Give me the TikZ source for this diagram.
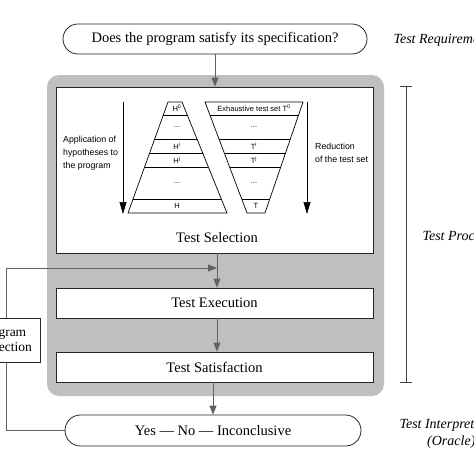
\documentclass[tikz,border=0pt]{standalone}
\usepackage{fontspec}
\setmainfont{Liberation Serif}
\newfontfamily\lsans{Liberation Sans}
\usetikzlibrary{arrows.meta,shapes.misc,calc}
\begin{document}
\begin{tikzpicture}[x=1pt,y=-1pt,
  mainfont/.style={font=\fontsize{14.5}{16}\selectfont},
  smallfont/.style={font=\lsans\fontsize{8.8}{13}\selectfont},
  tinyfont/.style={font=\lsans\fontsize{7.5}{9}\selectfont},
  sidefont/.style={font=\itshape\fontsize{14}{17}\selectfont},
  stadium/.style={rounded rectangle, draw=black!85, line width=0.8pt, inner sep=0pt, mainfont},
  whitebox/.style={rectangle, draw=black!85, fill=white, line width=0.8pt, inner sep=0pt, mainfont},
  flow/.style={draw=black!62, line width=0.9pt, -{Triangle[length=9pt,width=7pt]}},
  plain/.style={draw=black!62, line width=0.8pt},
  darrow/.style={draw=black, line width=0.6pt, -{Triangle[length=12pt,width=7pt]}},
  trap/.style={draw=black, line width=0.7pt},
]
\useasboundingbox (0,0) rectangle (474,474);
% background
\fill[black!25, rounded corners=12pt] (47,75) rectangle (384,396);
% nodes
\node[stadium, minimum width=304, minimum height=30] (top) at (215,39) {Does the program satisfy its specification?};
\node[whitebox, minimum width=317, minimum height=166] (sel) at (214.5,170) {};
\node[mainfont] (seltext) at (217,238) {Test Selection};
\node[whitebox, minimum width=317, minimum height=30] (exe) at (214.5,303) {Test Execution};
\node[whitebox, minimum width=317, minimum height=30] (sat) at (214.5,367) {Test Satisfaction};
\node[stadium, minimum width=296, minimum height=31] (yes) at (213,430.5) {Yes --- No --- Inconclusive};
\node[whitebox, minimum width=74, minimum height=44, align=center, font=\fontsize{13.5}{15}\selectfont] (pc) at (3,340) {Program\\Correction};
% side labels
\node[sidefont, anchor=west] (req) at (390,40) {Test Requirements};
\node[sidefont, anchor=west] (proc) at (419,236) {Test Process};
\node[sidefont, anchor=west, align=center] (interp) at (396,434) {Test Interpretation\\(Oracle)};
% bracket
\coordinate (bt) at (406,86);
\coordinate (bb) at (406,382);
\draw[plain, black!75] (bt) -- (bb);
\draw[plain, black!75] ($(bt)+(-6,0)$) -- ($(bt)+(6,0)$);
\draw[plain, black!75] ($(bb)+(-6,0)$) -- ($(bb)+(6,0)$);
% flow connectors
\draw[flow] (top.south -| 215,0) -- (sel.north -| 215,0);
\coordinate (m) at (217,268);
\draw[flow] (sel.south -| 217,0) -- (exe.north -| 217,0);
\draw[flow] (exe.south -| 217,0) -- (sat.north -| 217,0);
\draw[flow] (sat.south -| 213,0) -- (yes.north -| 213,0);
\draw[plain] (yes.west) -| (pc.south -| 6,0);
\draw[flow] (pc.north -| 6,0) |- (m);
% left pyramid
\coordinate (LA) at (168,102); \coordinate (LB) at (128,213);
\coordinate (LC) at (182,102); \coordinate (LD) at (227,213);
\draw[trap] (LA) -- (LB) -- (LD) -- (LC) -- cycle;
\foreach \t in {0.117,0.333,0.459,0.586,0.874}
  \draw[trap] ($(LA)!\t!(LB)$) -- ($(LC)!\t!(LD)$);
% right inverted pyramid
\coordinate (RA) at (205,102); \coordinate (RB) at (247,213);
\coordinate (RC) at (303,102); \coordinate (RD) at (265,213);
\draw[trap] (RA) -- (RB) -- (RD) -- (RC) -- cycle;
\foreach \t in {0.117,0.333,0.459,0.586,0.874}
  \draw[trap] ($(RA)!\t!(RB)$) -- ($(RC)!\t!(RD)$);
% pyramid labels
\node[tinyfont] (h0) at (177,108.5) {H\textsuperscript{0}};
\node[tinyfont] (hd1) at (177,127) {...};
\node[tinyfont] (hi) at (177,146) {H\textsuperscript{i}};
\node[tinyfont] (hj) at (177,160) {H\textsuperscript{j}};
\node[tinyfont] (hd2) at (177,183) {...};
\node[tinyfont] (h) at (177,206) {H};
\node[tinyfont] (t0) at (254,108.5) {Exhaustive test set T\textsuperscript{0}};
\node[tinyfont] (td1) at (254,127) {...};
\node[tinyfont] (ti) at (254,146) {T\textsuperscript{i}};
\node[tinyfont] (tj) at (254,160) {T\textsuperscript{j}};
\node[tinyfont] (td2) at (254,183) {...};
\node[tinyfont] (t) at (256,206) {T};
% side arrows
\coordinate (la1) at (123,102); \coordinate (la2) at (123,214);
\draw[darrow] (la1) -- (la2);
\coordinate (ra1) at (307,102); \coordinate (ra2) at (307,214);
\draw[darrow] (ra1) -- (ra2);
\node[smallfont, anchor=north west, align=left, inner sep=0pt] (app) at (63,136) {Application of\\hypotheses to\\the program};
\node[smallfont, anchor=north west, align=left, inner sep=0pt] (red) at (315,143) {Reduction\\of the test set};
\end{tikzpicture}
\end{document}
